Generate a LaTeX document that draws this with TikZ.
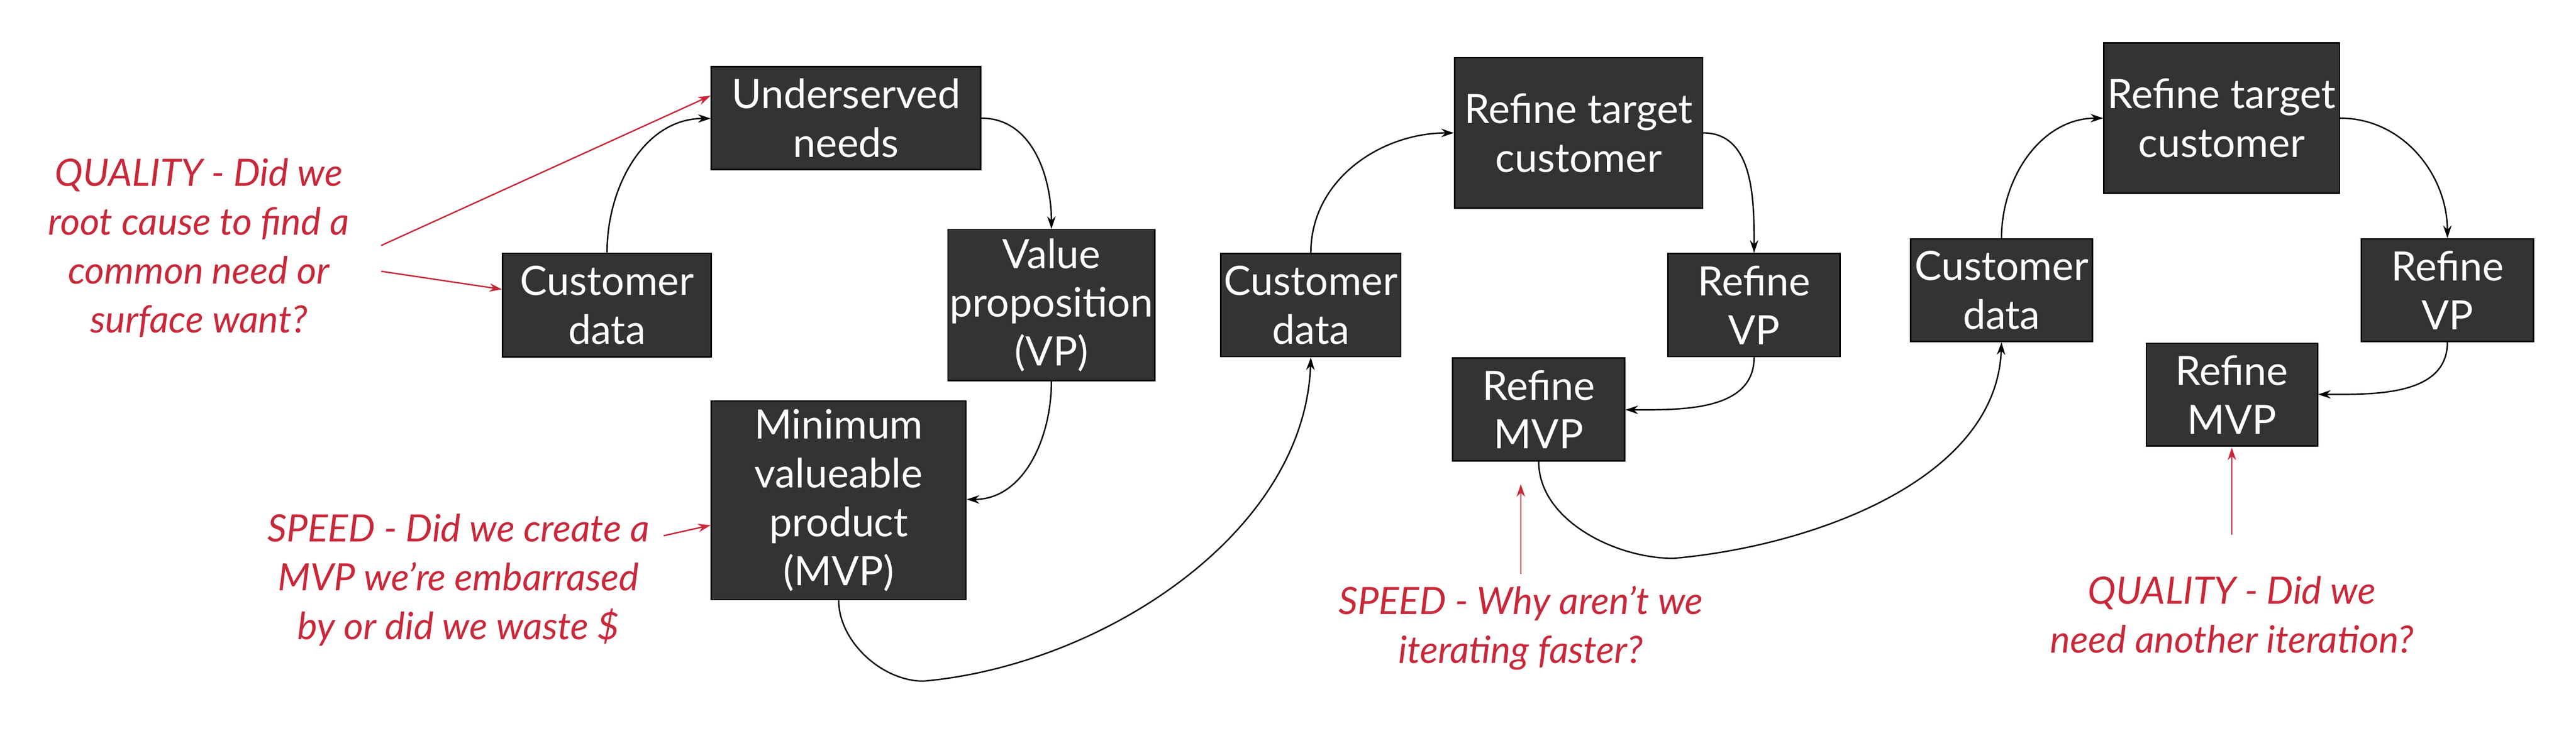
\documentclass[tikz,border=0pt]{standalone}
\usepackage{fontspec}
\setmainfont{Lato}
\usetikzlibrary{arrows.meta}
\definecolor{boxfill}{HTML}{333333}
\definecolor{qred}{HTML}{C8283A}
\tikzset{
  box/.style={draw=black, line width=1pt, fill=boxfill, text=white, align=center, inner sep=0pt,
    font=\fontsize{29}{35}\selectfont},
  flow/.style={draw=black, line width=1pt, -{Stealth[length=9pt,width=6pt]}},
  note/.style={text=qred, align=center, font=\fontsize{27}{35}\selectfont\itshape},
  notearrow/.style={draw=qred, line width=1pt, -{Stealth[length=9pt,width=6pt]}}
}
\newcommand{\bx}[6]{\node[box, minimum width=#3*0.04133cm, minimum height=#4*0.04133cm] (#1) at (#2) {#6};}
\begin{document}
\begin{tikzpicture}[x=0.04133cm, y=-0.04133cm]
\useasboundingbox (0,0) rectangle (1568,448.4);
\node[box, minimum width=164*0.04133cm, minimum height=62.7*0.04133cm] (un) at (515,72) {Underserved\\needs};
\node[box, minimum width=127*0.04133cm, minimum height=63.2*0.04133cm] (cd1) at (369.5,185.9) {Customer\\data};
\node[box, minimum width=126*0.04133cm, minimum height=92*0.04133cm] (vp) at (640,185.9) {Value\\proposition\\(VP)};
\node[box, minimum width=155*0.04133cm, minimum height=121*0.04133cm] (mvp) at (510.5,304.8) {Minimum\\valueable\\product\\(MVP)};
\node[box, minimum width=109.5*0.04133cm, minimum height=62.9*0.04133cm] (cd2) at (797.9,185.9) {Customer\\data};
\node[box, minimum width=151*0.04133cm, minimum height=91.8*0.04133cm] (rtc1) at (960.9,81) {Refine target\\customer};
\node[box, minimum width=104.8*0.04133cm, minimum height=62.9*0.04133cm] (rvp1) at (1067.7,185.9) {Refine\\VP};
\node[box, minimum width=104.7*0.04133cm, minimum height=62.7*0.04133cm] (rmvp1) at (936.6,249.5) {Refine\\MVP};
\node[box, minimum width=110.6*0.04133cm, minimum height=62.6*0.04133cm] (cd3) at (1218.3,176.8) {Customer\\data};
\node[box, minimum width=143.4*0.04133cm, minimum height=91.6*0.04133cm] (rtc2) at (1352.3,71.9) {Refine target\\customer};
\node[box, minimum width=104.7*0.04133cm, minimum height=62.6*0.04133cm] (rvp2) at (1489.7,176.8) {Refine\\VP};
\node[box, minimum width=104.2*0.04133cm, minimum height=62.6*0.04133cm] (rmvp2) at (1358.5,240.5) {Refine\\MVP};
% flow arrows
\draw[flow] (cd1.north) to[out=90,in=180] (un.west |- 0,72.2);
\draw[flow] (un.east |- 0,72) to[out=0,in=90] (vp.north);
\draw[flow] (vp.south) to[out=-90,in=0] (mvp.east |- 0,304.3);
\coordinate (low1) at (562,415);
\draw[flow] (mvp.south) to[out=-90,in=180,looseness=0.9] (low1) to[out=5,in=-92,looseness=0.9] (cd2.south);
\draw[flow] (cd2.north) to[out=90,in=180] (rtc1.west |- 0,81);
\draw[flow] (rtc1.east |- 0,81) to[out=0,in=90] (rvp1.north);
\draw[flow] (rvp1.south) to[out=-90,in=0] (rmvp1.east |- 0,249.7);
\coordinate (low2) at (1018.6,340.2);
\draw[flow] (rmvp1.south) to[out=-90,in=180,looseness=0.9] (low2) to[out=5,in=-92,looseness=0.9] (cd3.south);
\draw[flow] (cd3.north) to[out=90,in=180] (rtc2.west |- 0,72);
\draw[flow] (rtc2.east |- 0,72) to[out=0,in=90] (rvp2.north);
\draw[flow] (rvp2.south) to[out=-90,in=0] (rmvp2.east |- 0,240.3);
% notes
\node[note] (q1) at (121,151) {QUALITY - Did we\\root cause to find a\\common need or\\surface want?};
\coordinate (q1a) at (232,149.6);
\coordinate (q1b) at (232,165.3);
\draw[notearrow] (q1a) -- (un.west |- 0,58.3);
\draw[notearrow] (q1b) -- (cd1.west |- 0,176.3);
\node[note] (s1) at (279,353.4) {SPEED - Did we create a\\MVP we're embarrased\\by or did we waste \$};
\coordinate (s1a) at (404,326.4);
\draw[notearrow] (s1a) -- (mvp.west |- 0,320);
\node[note] (s2) at (925.7,382.7) {SPEED - Why aren't we\\iterating faster?};
\coordinate (s2a) at (925.7,349.6);
\draw[notearrow] (s2a) -- (925.7,295);
\node[note] (q2) at (1358.5,374.6) {QUALITY - Did we\\need another iteration?};
\coordinate (q2a) at (1358.5,325.8);
\draw[notearrow] (q2a) -- (1358.5,272.7);
\end{tikzpicture}
\end{document}
